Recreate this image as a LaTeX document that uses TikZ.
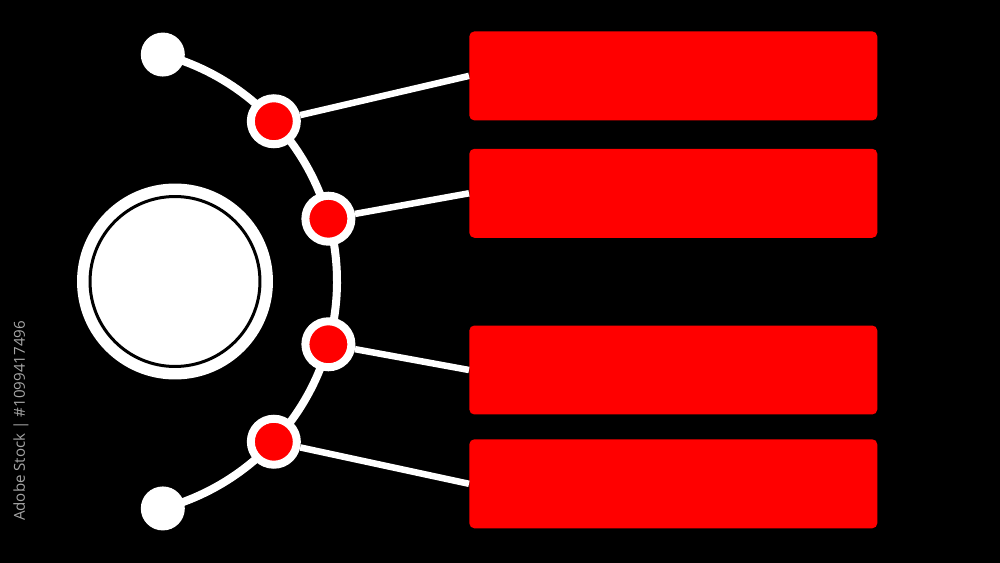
\documentclass[tikz,border=0pt]{standalone}
\usepackage{fontspec}
\usetikzlibrary{calc}
\newfontfamily\stockfont{Open Sans}
\definecolor{stockgray}{RGB}{165,165,165}
\begin{document}
\begin{tikzpicture}[x=0.02cm,y=-0.02cm,
        arcline/.style={white,line width=0.16cm},
        link/.style={white,line width=0.13cm},
        reddot/.style={circle,fill=red,draw=white,line width=0.16cm,minimum size=0.92cm,inner sep=0pt},
        enddot/.style={circle,fill=white,minimum size=0.88cm,inner sep=0pt},
        redbox/.style={fill=red,rounded corners=0.1cm,minimum width=8.16cm,minimum height=1.78cm,inner sep=0pt}]
        \fill[black] (0,0) rectangle (1000,563);
        \coordinate (ctr) at (102,281.5);

        % hub circle
        \node[circle,fill=white,minimum size=3.92cm,inner sep=0pt] (hub) at (175,281.5) {};
        \draw[black,line width=0.06cm] (hub.center) circle[radius=1.7cm];

        % arc with its two ends
        \node[enddot] (top) at ($(ctr)+(75:4.7cm)$) {};
        \node[enddot] (bot) at ($(ctr)+(-75:4.7cm)$) {};
        \draw[arcline] (top.center) arc[start angle=75,end angle=-75,radius=4.7cm];

        \foreach \a/\y [count=\i] in {43/75.9,15.5/193.3,-15.5/370,-43/483.8} {
            \node[redbox] (box\i) at (673.3,\y) {};
            \node[reddot] (dot\i) at ($(ctr)+(\a:4.7cm)$) {};
            \draw[link] (dot\i) -- (box\i.west);
        }

        \node[rotate=90,text=stockgray,font=\stockfont\fontsize{8.6}{10}\selectfont] (stockid) at (21,421) {Adobe Stock | \#1099417496};
    \end{tikzpicture}
\end{document}
